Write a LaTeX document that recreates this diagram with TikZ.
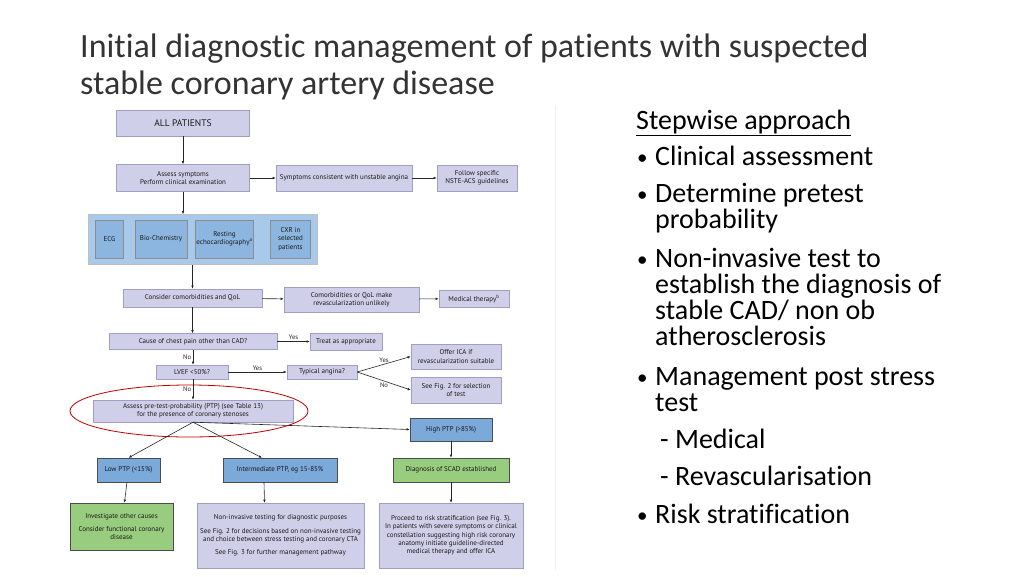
\documentclass[tikz,border=0pt]{standalone}
\usepackage{fontspec}
\setmainfont{Carlito}[Ligatures=NoCommon]
\newfontfamily\chartfont{PT Sans}
\usetikzlibrary{shapes, arrows.meta, positioning}

\definecolor{lilac}{RGB}{208,207,233}
\definecolor{lilacline}{RGB}{160,158,196}
\definecolor{paleblue}{RGB}{168,201,233}
\definecolor{testblue}{RGB}{140,182,224}
\definecolor{ptpblue}{RGB}{122,169,218}
\definecolor{leafgreen}{RGB}{152,204,126}

\newcommand{\dotmark}{\makebox[18pt][l]{\raisebox{1pt}{\fontsize{21}{21}\selectfont•}}}

\begin{document}
\begin{tikzpicture}[
    x=1pt, y=-1pt,
    box/.style={rectangle, draw=lilacline, fill=lilac, inner sep=1pt, align=center, text=black!90, font=\chartfont\fontsize{7}{8.3}\selectfont},
    testbox/.style={box, draw=black!45, fill=testblue},
    ptpbox/.style={box, draw=black!70, fill=ptpblue},
    endbox/.style={box, draw=black!70, fill=leafgreen},
    lbl/.style={font=\chartfont\fontsize{6.6}{7}\selectfont, inner sep=1.5pt},
    arrow/.style={-{Latex[length=3.2pt, width=2.6pt]}, line width=0.6pt, black!85},
    heading/.style={anchor=base west, inner sep=0pt, text=black!80, font=\fontsize{34}{37}\selectfont},
    point/.style={anchor=base west, inner sep=0pt, font=\fontsize{28}{26}\selectfont}
]
\useasboundingbox (0,0) rectangle (1024,576);

% Title
\node[heading] (title1) at (80,57) {Initial diagnostic management of patients with suspected};
\node[heading] (title2) at (80,94) {stable coronary artery disease};

% edge of the chart
\draw[black!6, line width=1pt] (555,105) -- (555,570);

% Symptoms
\node[box, minimum width=133pt, minimum height=26pt, font=\chartfont\fontsize{9.5}{10}\selectfont] (allp) at (183,123) {ALL PATIENTS};
\node[box, minimum width=133pt, minimum height=27pt] (assess) at (183,178) {Assess symptoms\\Perform clinical examination};
\node[box, minimum width=136pt, minimum height=26pt] (unstable) at (344,178) {Symptoms consistent with unstable angina};
\node[box, minimum width=80pt, minimum height=26pt] (nste) at (477,178) {Follow specific\\NSTE-ACS guidelines};

% Basic testing
\node[rectangle, draw=black!25, fill=paleblue, minimum width=229pt, minimum height=50pt] (tests) at (202.5,239.5) {};
\node[testbox, minimum width=28pt, minimum height=38pt] (ecg) at (109.5,239) {ECG};
\node[testbox, minimum width=52pt, minimum height=38pt] (biochem) at (161,239) {Bio-Chemistry};
\node[testbox, minimum width=57pt, minimum height=38pt] (echo) at (224.5,239) {Resting\\echocardiography\textsuperscript{a}};
\node[testbox, minimum width=40pt, minimum height=38pt] (cxr) at (290.5,239) {CXR in\\selected\\patients};

% Comorbidities
\node[box, minimum width=139pt, minimum height=18pt] (comorb) at (192.5,298) {Consider comorbidities and QoL};
\node[box, minimum width=135pt, minimum height=25pt] (unlikely) at (351.5,299.5) {Comorbidities or QoL make\\revascularization unlikely};
\node[box, minimum width=70pt, minimum height=17pt] (medther) at (474,298.5) {Medical therapy\textsuperscript{b}};

% Chest pain / LVEF
\node[box, minimum width=168pt, minimum height=16pt] (cause) at (193,341.5) {Cause of chest pain other than CAD?};
\node[box, minimum width=72pt, minimum height=17pt] (treat) at (346,341.5) {Treat as appropriate};
\node[box, minimum width=72pt, minimum height=14pt] (lvef) at (192,372) {LVEF <50\%?};
\node[box, minimum width=70pt, minimum height=14pt] (typical) at (322,372) {Typical angina?};
\node[box, minimum width=90pt, minimum height=25pt] (offer) at (456,356.5) {Offer ICA if\\revascularization suitable};
\node[box, minimum width=90pt, minimum height=26pt] (seefig) at (456,390) {See Fig. 2 for selection\\of test};

% PTP
\node[box, minimum width=200pt, minimum height=22pt] (ptp) at (193,411) {Assess pre-test-probability (PTP) (see Table 13)\\for the presence of coronary stenoses};
\node[draw=red!75!black, line width=0.8pt, ellipse, minimum width=238pt, minimum height=52pt] (ring) at (189,411) {};
\node[ptpbox, minimum width=82pt, minimum height=23pt] (high) at (451,429.5) {High PTP (>85\%)};
\node[ptpbox, minimum width=63pt, minimum height=24pt] (low) at (128.5,470) {Low PTP (<15\%)};
\node[ptpbox, minimum width=114pt, minimum height=24pt] (inter) at (280,470) {Intermediate PTP, eg 15-85\%};
\node[endbox, minimum width=116pt, minimum height=24pt] (scad) at (451,470) {Diagnosis of SCAD established};

% Outcomes
\node[endbox, minimum width=103pt, minimum height=47pt] (invest) at (121.5,526.5) {Investigate other causes\\[5pt]Consider functional coronary\\disease};
\node[box, minimum width=167pt, minimum height=65pt] (noninv) at (280.5,535.5) {Non-invasive testing for diagnostic purposes\\[5pt]See Fig. 2 for decisions based on non-invasive testing\\and choice between stress testing and coronary CTA\\[5pt]See Fig. 3 for further management pathway};
\node[box, minimum width=144pt, minimum height=65pt] (proceed) at (451,535.5) {Proceed to risk stratification (see Fig. 3).\\In patients with severe symptoms or clinical\\constellation suggesting high risk coronary\\anatomy initiate guideline-directed\\medical therapy and offer ICA};

% Arrows
\draw[arrow] (allp) -- (assess);
\draw[arrow] (assess) -- (unstable);
\draw[arrow] (unstable) -- (nste);
\draw[arrow] (assess) -- (assess |- tests.north);
\draw[arrow] (comorb.north |- tests.south) -- (comorb);
\draw[arrow] (comorb) -- (unlikely);
\draw[arrow] (unlikely) -- (medther);
\draw[arrow] (comorb) -- (comorb |- cause.north);
\draw[arrow] (cause) -- node[lbl, above] {Yes} (treat);
\draw[arrow] (cause) -- node[lbl, left] {No} (cause |- lvef.north);
\draw[arrow] (lvef) -- node[lbl, above] {Yes} (typical);
\draw[arrow] (typical.east) -- node[lbl, above] {Yes} (offer.west);
\draw[arrow] (typical.east) -- node[lbl, below] {No} (seefig.west);
\draw[arrow] (lvef.south -| ptp.north) -- node[lbl, left] {No} (ptp.north);
\draw[arrow] (ptp.south) -- (low.north);
\draw[arrow] (ptp.south) -- ([xshift=-18pt]inter.north);
\draw[arrow] (ptp.south) -- (high.west);
\draw[arrow] (high) -- (scad);
\draw[arrow] (low) -- (invest);
\draw[arrow] ([xshift=-16pt]inter.south) -- ([xshift=-16pt]noninv.north);
\draw[arrow] (scad) -- (proceed);

% Stepwise approach
\node[point] (steps) at (636,129) {\underline{Stepwise approach}};
\node[point] (p1) at (637,165) {\parbox[t]{360pt}{\hangindent=18pt\hangafter=1\dotmark Clinical assessment}};
\node[point] (p2) at (637,202) {\parbox[t]{360pt}{\hangindent=18pt\hangafter=1\dotmark Determine pretest\\probability}};
\node[point] (p3) at (637,267) {\parbox[t]{360pt}{\hangindent=18pt\hangafter=1\dotmark Non-invasive test to\\establish the diagnosis of\\stable CAD/ non ob\\atherosclerosis}};
\node[point] (p4) at (637,385) {\parbox[t]{360pt}{\hangindent=18pt\hangafter=1\dotmark Management post stress\\test}};
\node[point] (p4a) at (660,448) {- Medical};
\node[point] (p4b) at (660,485) {- Revascularisation};
\node[point] (p5) at (637,523) {\parbox[t]{360pt}{\hangindent=18pt\hangafter=1\dotmark Risk stratification}};

\end{tikzpicture}
\end{document}
